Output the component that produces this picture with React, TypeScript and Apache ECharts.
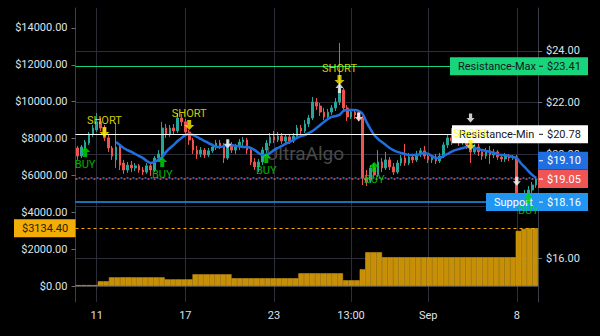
import React, { useEffect, useRef } from 'react';
import * as echarts from 'echarts';

// [open, close, low, high] on the right price axis
const candles: number[][] = [
  [20.25, 19.94, 19.79, 20.33], [19.94, 20.29, 19.86, 20.37], [20.25, 20.48, 20.17, 20.56], [20.44, 20.79, 20.37, 20.87],
  [20.79, 21.02, 20.68, 21.14], [20.95, 21.26, 20.87, 21.6], [21.26, 21.02, 20.91, 21.41], [21.02, 20.64, 20.52, 21.14],
  [20.64, 20.25, 20.1, 20.75], [20.25, 19.94, 19.79, 20.33], [19.79, 20.29, 19.48, 21.22], [20.29, 19.59, 19.4, 20.37],
  [19.67, 19.4, 19.25, 19.79], [19.4, 19.59, 19.29, 19.71], [19.59, 19.48, 19.32, 19.75], [19.48, 19.56, 19.36, 19.67],
  [19.56, 19.4, 19.29, 19.63], [19.4, 19.32, 19.21, 19.52], [19.32, 19.56, 19.25, 19.67], [19.56, 19.4, 19.17, 19.71],
  [19.4, 19.86, 19.32, 19.94], [19.86, 20.02, 19.79, 20.17], [19.94, 21.02, 19.79, 21.26], [21.02, 20.79, 20.64, 21.18],
  [20.79, 21.02, 20.68, 21.14], [21.02, 20.91, 20.79, 21.18], [20.91, 21.41, 20.83, 21.6], [21.41, 21.26, 21.1, 21.57],
  [21.26, 20.87, 20.75, 21.37], [20.87, 20.56, 20.37, 20.95], [20.56, 20.17, 20.02, 20.64], [20.17, 20.02, 19.83, 20.33],
  [20.02, 20.17, 19.9, 20.29], [20.17, 19.98, 19.86, 20.25], [19.98, 20.14, 19.9, 20.25], [20.14, 20.29, 20.06, 20.37],
  [20.29, 20.44, 20.17, 20.56], [20.44, 20.33, 20.21, 20.56], [20.33, 19.86, 19.67, 20.44], [19.86, 20.37, 19.79, 20.56],
  [20.37, 20.17, 20.06, 20.48], [20.17, 20.29, 20.02, 20.41], [20.29, 20.48, 20.17, 20.6], [20.48, 20.56, 20.33, 20.68],
  [20.56, 20.17, 20.02, 20.64], [20.17, 19.71, 19.59, 20.25], [19.71, 19.52, 19.4, 19.86], [19.52, 19.71, 19.32, 19.83],
  [19.71, 20.17, 19.59, 20.29], [20.17, 20.44, 20.06, 20.56], [20.44, 20.68, 20.33, 20.83], [20.68, 20.56, 20.44, 20.91],
  [20.56, 20.71, 20.48, 20.87], [20.71, 20.52, 20.41, 20.83], [20.52, 20.68, 20.44, 20.79], [20.68, 20.52, 20.41, 20.79],
  [20.52, 20.71, 20.44, 20.83], [20.71, 21.02, 20.64, 21.14], [21.02, 20.91, 20.79, 21.14], [20.91, 21.18, 20.83, 21.33],
  [21.18, 21.41, 21.06, 21.53], [21.41, 22.03, 21.33, 22.22], [22.03, 21.87, 21.72, 22.18], [21.87, 21.64, 21.49, 21.99],
  [21.64, 21.45, 21.33, 21.8], [21.45, 21.64, 21.37, 21.76], [21.64, 21.8, 21.53, 21.91], [21.8, 22.03, 21.68, 22.18],
  [22.03, 22.49, 21.91, 24.31], [22.49, 21.8, 21.64, 22.57], [21.8, 21.45, 21.29, 21.91], [21.45, 21.64, 21.37, 21.76],
  [21.64, 21.53, 21.37, 21.72], [21.6, 21.41, 21.29, 21.72], [21.41, 19.09, 18.82, 21.49], [19.09, 18.94, 18.78, 19.4],
  [19.01, 19.48, 18.9, 19.59], [19.48, 19.21, 19.09, 19.67], [19.21, 19.71, 19.13, 20.17], [19.71, 19.48, 19.32, 19.86],
  [19.48, 19.79, 19.4, 20.1], [19.79, 19.52, 19.4, 19.9], [19.52, 19.32, 19.21, 19.67], [19.32, 19.67, 19.25, 19.79],
  [19.67, 19.86, 19.56, 19.98], [19.86, 19.67, 19.56, 20.41], [19.67, 19.9, 19.59, 20.06], [19.9, 19.79, 19.67, 20.02],
  [19.79, 20.02, 19.71, 20.14], [20.02, 20.14, 19.9, 20.25], [20.14, 19.94, 19.83, 20.33], [19.94, 19.79, 19.67, 20.06],
  [19.79, 19.9, 19.67, 19.98], [19.9, 19.75, 19.63, 20.02], [19.75, 19.94, 19.67, 20.06], [19.94, 20.37, 19.86, 20.48],
  [20.37, 20.64, 20.25, 20.79], [20.64, 20.52, 20.37, 21.02], [20.52, 20.71, 20.44, 20.95], [20.71, 20.48, 20.33, 20.83],
  [20.48, 20.64, 20.37, 20.75], [20.64, 20.37, 20.21, 20.75], [20.37, 20.1, 19.67, 20.48], [20.1, 20.29, 20.02, 20.41],
  [20.29, 20.1, 19.94, 20.41], [20.1, 19.94, 19.79, 20.21], [19.94, 20.14, 19.83, 20.25], [20.14, 19.98, 19.63, 20.33],
  [19.98, 20.1, 19.86, 20.21], [20.1, 19.9, 19.79, 20.17], [19.9, 19.83, 19.71, 20.02], [19.83, 19.94, 19.71, 20.06],
  [19.94, 19.86, 19.75, 20.02], [19.86, 19.9, 19.79, 19.98], [19.9, 18.24, 17.93, 19.98], [18.24, 18.13, 17.97, 18.43],
  [18.13, 18.43, 18.01, 18.63], [18.4, 18.63, 18.28, 18.78], [18.63, 18.82, 18.47, 18.94], [18.82, 19.05, 18.71, 19.13],
];

const ema: (number | null)[] = [
  null, null, null, null, null, null, null, null, null, null,
  20.48, 20.37, 20.25, 20.17, 20.1, 20.02, 19.94, 19.86, 19.75, 19.67,
  19.71, 19.79, 19.9, 20.1, 20.25, 20.37, 20.52, 20.64, 20.75, 20.79,
  20.75, 20.68, 20.6, 20.52, 20.44, 20.37, 20.29, 20.29, 20.33, 20.37,
  20.37, 20.33, 20.33, 20.29, 20.29, 20.25, 20.17, 20.06, 19.98, 19.98,
  20.06, 20.17, 20.25, 20.33, 20.41, 20.48, 20.56, 20.64, 20.71, 20.75,
  20.83, 20.91, 21.02, 21.14, 21.26, 21.37, 21.45, 21.49, 21.53, 21.68,
  21.72, 21.72, 21.72, 21.68, 21.57, 21.26, 20.99, 20.75, 20.6, 20.48,
  20.37, 20.25, 20.17, 20.1, 20.06, 20.02, 19.98, 19.98, 19.98, 20.02,
  20.06, 20.02, 19.94, 19.86, 19.86, 19.94, 20.02, 20.1, 20.17, 20.21,
  20.25, 20.29, 20.29, 20.25, 20.21, 20.17, 20.14, 20.1, 20.06, 20.02,
  19.98, 19.98, 19.94, 19.9, 19.86, 19.67, 19.52, 19.36, 19.21, 19.1,
];

const histogram: number[] = [
  50, 50, 50, 50, 255, 255,
  470, 470, 470, 470, 470, 470, 470, 470, 470, 470,
  360, 360, 360, 360, 360,
  635, 635, 635, 635, 635, 635, 635,
  420, 420, 420, 420, 420, 420, 420, 420, 420, 420, 420, 420,
  690, 690, 690, 690, 690, 690, 690, 690,
  310, 310, 310, 905, 1830, 1830, 1830,
  1560, 1560, 1560, 1560, 1560, 1560, 1560, 1560, 1560, 1560, 1560, 1560,
  1560, 1560, 1560, 1560, 1560, 1560, 1560, 1560, 1560, 1560, 1560, 1560,
  2990, 3100, 3134.4, 3134.4,
];

const leftTicks = [0, 2000, 4000, 6000, 8000, 10000, 12000, 14000];
const rightTicks = [16, 18, 20, 22, 24];
const xTickIndex = [5, 28, 51, 71, 91, 114];
const xTickLabels = ['11', '17', '23', '13:00', 'Sep', '8'];

const resistanceMax = 23.41;
const resistanceMin = 20.78;
const supportLevel = 18.16;
const lastPrice = 19.05;
const emaLast = 19.1;
const histLast = 3134.4;

const buySignals = [[2, 20.1], [22, 19.71], [49, 19.86], [77, 19.52], [117, 18.32]];
const shortSignals = [[7, 20.87], [29, 21.14], [68, 22.88], [102, 20.37]];
const exitUp = [[68, 22.57]];
const exitDown = [[39, 20.41], [73, 21.45], [102, 21.41], [114, 18.97]];

const categories = candles.map((_, i) => 'c' + i);
const histCategories = histogram.map((_, i) => 'h' + i);

const FONT = 'Roboto, "Noto Sans", sans-serif';
const UP = 'path://M5,0L10,5L7,5L7,10L3,10L3,5L0,5Z';
const DOWN = 'path://M3,0L7,0L7,5L10,5L5,10L0,5L3,5Z';
const AXIS_TXT = '#dfe2ea';
const AXIS_LINE = '#3a3e4a';
const GRID_LINE = '#2c2f39';

export default function App() {
  const ref = useRef<HTMLDivElement>(null);
  useEffect(() => {
    if (!ref.current) return;
    const chart = echarts.init(ref.current, undefined, { renderer: 'svg' });
    const isTick = (i: number) => xTickIndex.indexOf(i) >= 0;
    const option: any = {
      backgroundColor: '#000000',
      animation: false,
      grid: { left: 75.5, right: 62, top: 8, bottom: 34 },
      xAxis: [
        {
          type: 'category', data: categories, boundaryGap: true,
          axisLine: { show: true, lineStyle: { color: AXIS_LINE } },
          axisTick: { show: true, alignWithLabel: true, interval: isTick, length: 3, lineStyle: { color: AXIS_LINE } },
          axisLabel: {
            interval: isTick, color: AXIS_TXT, fontSize: 11, fontFamily: FONT, margin: 8,
            formatter: (_v: string, i: number) => { const k = xTickIndex.indexOf(i); return k >= 0 ? xTickLabels[k] : ''; },
          },
          splitLine: { show: true, interval: isTick, alignWithLabel: true, lineStyle: { color: GRID_LINE } },
        },
        { type: 'category', data: histCategories, boundaryGap: true, show: false },
      ],
      yAxis: [
        {
          type: 'value', position: 'left', min: -868, max: 15085,
          axisLine: { show: true, lineStyle: { color: AXIS_LINE } },
          axisTick: { show: true, length: 4, customValues: leftTicks, lineStyle: { color: '#6a6d78' } },
          axisLabel: { customValues: leftTicks, color: AXIS_TXT, fontSize: 11, fontFamily: FONT, margin: 8, formatter: (v: number) => '$' + v.toFixed(2) },
          splitLine: { show: false },
        },
        {
          type: 'value', position: 'right', min: 14.3, max: 25.66,
          axisLine: { show: true, lineStyle: { color: AXIS_LINE } },
          axisTick: { show: true, length: 4, customValues: rightTicks, lineStyle: { color: '#6a6d78' } },
          axisLabel: { customValues: rightTicks, color: AXIS_TXT, fontSize: 11, fontFamily: FONT, margin: 8, formatter: (v: number) => '$' + v.toFixed(2) },
          splitLine: { show: true, lineStyle: { color: GRID_LINE } },
        },
      ],
      series: [
        {
          type: 'bar', name: 'hist', xAxisIndex: 1, yAxisIndex: 0, data: histogram, barWidth: '100%', z: 2,
          itemStyle: { color: '#c68f06', borderColor: '#dba31c', borderWidth: 0.5 },
          markLine: {
            symbol: ['none', 'none'], silent: true, label: { show: false },
            data: [{ yAxis: histLast, lineStyle: { color: '#f0a800', type: [3, 3], width: 1 } }],
          },
        },
        {
          type: 'candlestick', name: 'price', xAxisIndex: 0, yAxisIndex: 1, data: candles, barWidth: '55%', z: 3,
          itemStyle: { color: '#26a69a', color0: '#ef5350', borderColor: '#26a69a', borderColor0: '#ef5350', borderWidth: 1 },
          markLine: {
            symbol: ['none', 'none'], silent: true, label: { show: false },
            data: [
              { yAxis: resistanceMax, lineStyle: { color: '#18d47b', width: 1, type: 'solid' } },
              { yAxis: resistanceMin, lineStyle: { color: '#ffffff', width: 1, type: 'solid' } },
              { yAxis: supportLevel, lineStyle: { color: '#2196f3', width: 1.5, type: 'solid' } },
              { yAxis: lastPrice, lineStyle: { color: '#f05454', width: 1.5, type: [2, 4] } },
              { yAxis: emaLast, lineStyle: { color: '#2f7bf0', width: 1.5, type: [2, 4], dashOffset: 3 } },
            ],
          },
        },
        {
          type: 'line', name: 'ema', xAxisIndex: 0, yAxisIndex: 1, data: ema, symbol: 'none', smooth: 0.3, z: 4,
          lineStyle: { color: '#1f6fe0', width: 2.5 },
        },
        {
          type: 'scatter', xAxisIndex: 0, yAxisIndex: 1, data: buySignals, symbol: UP, symbolSize: [10, 10], z: 20,
          itemStyle: { color: '#00e000' },
          label: { show: true, position: 'bottom', distance: 2, formatter: 'BUY', color: '#00e000', fontSize: 11, fontFamily: FONT },
        },
        {
          type: 'scatter', xAxisIndex: 0, yAxisIndex: 1, data: shortSignals, symbol: DOWN, symbolSize: [10, 10], z: 20,
          itemStyle: { color: '#ffee00' },
          label: { show: true, position: 'top', distance: 1, formatter: 'SHORT', color: '#ffff00', fontSize: 11, fontFamily: FONT },
        },
        {
          type: 'scatter', xAxisIndex: 0, yAxisIndex: 1, data: exitUp, symbol: UP, symbolSize: [8, 10], z: 20,
          itemStyle: { color: '#ffffff' },
        },
        {
          type: 'scatter', xAxisIndex: 0, yAxisIndex: 1, data: exitDown, symbol: DOWN, symbolSize: [8, 9], z: 20,
          itemStyle: { color: '#ffffff' },
        },
      ],
    };
    chart.setOption(option);

    const yR = (v: number) => chart.convertToPixel({ yAxisIndex: 1 }, v) as number;
    const yL = (v: number) => chart.convertToPixel({ yAxisIndex: 0 }, v) as number;
    const AX = 538;
    const H = 18;
    const g: any[] = [];
    const box = (x: number, yc: number, w: number, bg: string, text: string, fg: string, tx: number, tick?: string) => {
      g.push({ type: 'rect', z: 10, shape: { x, y: yc - H / 2, width: w, height: H }, style: { fill: bg } });
      g.push({ type: 'text', z: 11, x: tx, y: yc, style: { text, fill: fg, fontSize: 11, fontFamily: FONT, verticalAlign: 'middle', align: 'left' } });
      if (tick) g.push({ type: 'line', z: 11, shape: { x1: AX + 1, y1: yc, x2: AX + 5, y2: yc }, style: { stroke: tick, lineWidth: 1 } });
    };
    g.push({ type: 'text', z: 1, x: 305, y: yR(20.05), style: { text: 'UltraAlgo', fill: '#4a4a4a', fontSize: 19, fontFamily: FONT, align: 'center', verticalAlign: 'middle' } });
    // right-side name tags
    box(450, yR(resistanceMax), AX - 450, '#18d47b', 'Resistance-Max', '#131722', 458);
    box(452, yR(resistanceMin), AX - 452, '#ffffff', 'Resistance-Min', '#131722', 459);
    box(486, yR(supportLevel), AX - 486, '#2196f3', 'Support', '#ffffff', 494);
    // price tags
    box(AX, yR(resistanceMax), 50, '#18d47b', '$' + resistanceMax.toFixed(2), '#131722', AX + 9, '#131722');
    box(AX, yR(resistanceMin), 50, '#ffffff', '$' + resistanceMin.toFixed(2), '#131722', AX + 9, '#131722');
    box(AX, yR(emaLast) - 17, 50, '#1f6fe0', '$' + emaLast.toFixed(2), '#ffffff', AX + 9, '#ffffff');
    box(AX, yR(lastPrice), 50, '#f05454', '$' + lastPrice.toFixed(2), '#ffffff', AX + 9, '#ffffff');
    box(AX, yR(supportLevel), 50, '#2196f3', '$' + supportLevel.toFixed(2), '#ffffff', AX + 9, '#ffffff');
    // left histogram tag
    box(14, yL(histLast), 61.5, '#f2ae06', '$' + histLast.toFixed(2), '#2a2200', 22);
    chart.setOption({ graphic: g });

    return () => chart.dispose();
  }, []);
  return <div ref={ref} style={{ position: 'fixed', left: 0, top: 0, width: 600, height: 336, background: '#000' }} />;
}
